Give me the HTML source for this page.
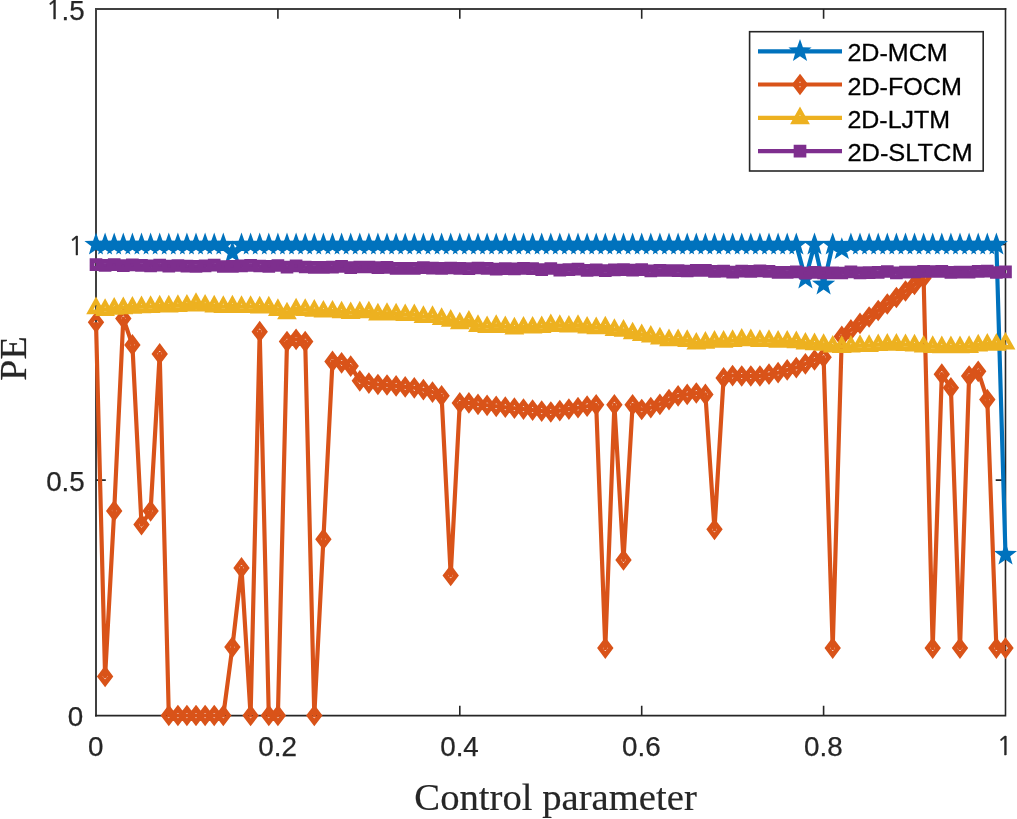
<!DOCTYPE html>
<html><head><meta charset="utf-8"><title>PE vs Control parameter</title>
<style>html,body{margin:0;padding:0;background:#fff}svg{display:block}</style></head>
<body>
<svg width="1017" height="819" viewBox="0 0 1017 819">
<rect width="1017" height="819" fill="#fff"/>
<path d="M96.0,716.4V9.0H1006.3" fill="none" stroke="#404040" stroke-width="2" stroke-linejoin="miter"/>
<path d="M95.0,715.6H1005.5V8.0" fill="none" stroke="#262626" stroke-width="1.6" stroke-linejoin="miter"/>
<path d="M277.9,715.6v-9.8M277.9,9.0v9.8M459.8,715.6v-9.8M459.8,9.0v9.8M641.7,715.6v-9.8M641.7,9.0v9.8M823.6,715.6v-9.8M823.6,9.0v9.8M96.0,480.1h9.8M1005.5,480.1h-9.8M96.0,244.5h9.8M1005.5,244.5h-9.8" stroke="#262626" stroke-width="1.6" fill="none"/>
<path d="M96.0,244.7L105.1,244.7L114.2,244.7L123.3,244.7L132.4,244.7L141.5,244.7L150.6,244.7L159.7,244.7L168.8,244.7L177.9,244.7L186.9,244.7L196.0,244.7L205.1,244.7L214.2,244.7L223.3,244.7L232.4,252.8L241.5,244.7L250.6,244.7L259.7,244.7L268.8,244.7L277.9,244.7L287.0,244.7L296.1,244.7L305.2,244.7L314.3,244.7L323.4,244.7L332.5,244.7L341.6,244.7L350.7,244.7L359.8,244.7L368.9,244.7L377.9,244.7L387.0,244.7L396.1,244.7L405.2,244.7L414.3,244.7L423.4,244.7L432.5,244.7L441.6,244.7L450.7,244.7L459.8,244.7L468.9,244.7L478.0,244.7L487.1,244.7L496.2,244.7L505.3,244.7L514.4,244.7L523.5,244.7L532.6,244.7L541.7,244.7L550.8,244.7L559.8,244.7L568.9,244.7L578.0,244.7L587.1,244.7L596.2,244.7L605.3,244.7L614.4,244.7L623.5,244.7L632.6,244.7L641.7,244.7L650.8,244.7L659.9,244.7L669.0,244.7L678.1,244.7L687.2,244.7L696.3,244.7L705.4,244.7L714.5,244.7L723.6,244.7L732.6,244.7L741.7,244.7L750.8,244.7L759.9,244.7L769.0,244.7L778.1,244.7L787.2,244.7L796.3,244.7L805.4,278.5L814.5,244.7L823.6,284.6L832.7,244.7L841.8,249.3L850.9,244.7L860.0,244.7L869.1,244.7L878.2,244.7L887.3,244.7L896.4,244.7L905.5,244.7L914.5,244.7L923.6,244.7L932.7,244.7L941.8,244.7L950.9,244.7L960.0,244.7L969.1,244.7L978.2,244.7L987.3,244.7L996.4,244.7L1005.5,554.7" fill="none" stroke="#0072BD" stroke-width="4.17" stroke-linejoin="round" stroke-linecap="butt"/>
<path d="M96.0,232.6L98.9,240.7L107.6,241.0L100.7,246.3L103.1,254.6L96.0,249.7L88.9,254.6L91.3,246.3L84.4,241.0L93.1,240.7ZM105.1,232.6L108.0,240.7L116.7,241.0L109.8,246.3L112.2,254.6L105.1,249.7L98.0,254.6L100.4,246.3L93.5,241.0L102.2,240.7ZM114.2,232.6L117.1,240.7L125.7,241.0L118.9,246.3L121.3,254.6L114.2,249.7L107.0,254.6L109.5,246.3L102.6,241.0L111.3,240.7ZM123.3,232.6L126.2,240.7L134.8,241.0L128.0,246.3L130.4,254.6L123.3,249.7L116.1,254.6L118.6,246.3L111.7,241.0L120.4,240.7ZM132.4,232.6L135.3,240.7L143.9,241.0L137.1,246.3L139.5,254.6L132.4,249.7L125.2,254.6L127.7,246.3L120.8,241.0L129.5,240.7ZM141.5,232.6L144.4,240.7L153.0,241.0L146.2,246.3L148.6,254.6L141.5,249.7L134.3,254.6L136.8,246.3L129.9,241.0L138.6,240.7ZM150.6,232.6L153.5,240.7L162.1,241.0L155.3,246.3L157.7,254.6L150.6,249.7L143.4,254.6L145.9,246.3L139.0,241.0L147.7,240.7ZM159.7,232.6L162.6,240.7L171.2,241.0L164.4,246.3L166.8,254.6L159.7,249.7L152.5,254.6L155.0,246.3L148.1,241.0L156.8,240.7ZM168.8,232.6L171.7,240.7L180.3,241.0L173.5,246.3L175.9,254.6L168.8,249.7L161.6,254.6L164.1,246.3L157.2,241.0L165.9,240.7ZM177.9,232.6L180.8,240.7L189.4,241.0L182.6,246.3L185.0,254.6L177.9,249.7L170.7,254.6L173.1,246.3L166.3,241.0L174.9,240.7ZM186.9,232.6L189.9,240.7L198.5,241.0L191.7,246.3L194.1,254.6L186.9,249.7L179.8,254.6L182.2,246.3L175.4,241.0L184.0,240.7ZM196.0,232.6L199.0,240.7L207.6,241.0L200.8,246.3L203.2,254.6L196.0,249.7L188.9,254.6L191.3,246.3L184.5,241.0L193.1,240.7ZM205.1,232.6L208.0,240.7L216.7,241.0L209.8,246.3L212.3,254.6L205.1,249.7L198.0,254.6L200.4,246.3L193.6,241.0L202.2,240.7ZM214.2,232.6L217.1,240.7L225.8,241.0L218.9,246.3L221.4,254.6L214.2,249.7L207.1,254.6L209.5,246.3L202.7,241.0L211.3,240.7ZM223.3,232.6L226.2,240.7L234.9,241.0L228.0,246.3L230.5,254.6L223.3,249.7L216.2,254.6L218.6,246.3L211.8,241.0L220.4,240.7ZM232.4,240.6L235.3,248.8L244.0,249.0L237.1,254.3L239.6,262.6L232.4,257.7L225.3,262.6L227.7,254.3L220.9,249.0L229.5,248.8ZM241.5,232.6L244.4,240.7L253.1,241.0L246.2,246.3L248.7,254.6L241.5,249.7L234.4,254.6L236.8,246.3L230.0,241.0L238.6,240.7ZM250.6,232.6L253.5,240.7L262.2,241.0L255.3,246.3L257.8,254.6L250.6,249.7L243.5,254.6L245.9,246.3L239.1,241.0L247.7,240.7ZM259.7,232.6L262.6,240.7L271.3,241.0L264.4,246.3L266.9,254.6L259.7,249.7L252.6,254.6L255.0,246.3L248.2,241.0L256.8,240.7ZM268.8,232.6L271.7,240.7L280.4,241.0L273.5,246.3L275.9,254.6L268.8,249.7L261.7,254.6L264.1,246.3L257.2,241.0L265.9,240.7ZM277.9,232.6L280.8,240.7L289.5,241.0L282.6,246.3L285.0,254.6L277.9,249.7L270.8,254.6L273.2,246.3L266.3,241.0L275.0,240.7ZM287.0,232.6L289.9,240.7L298.6,241.0L291.7,246.3L294.1,254.6L287.0,249.7L279.9,254.6L282.3,246.3L275.4,241.0L284.1,240.7ZM296.1,232.6L299.0,240.7L307.6,241.0L300.8,246.3L303.2,254.6L296.1,249.7L288.9,254.6L291.4,246.3L284.5,241.0L293.2,240.7ZM305.2,232.6L308.1,240.7L316.7,241.0L309.9,246.3L312.3,254.6L305.2,249.7L298.0,254.6L300.5,246.3L293.6,241.0L302.3,240.7ZM314.3,232.6L317.2,240.7L325.8,241.0L319.0,246.3L321.4,254.6L314.3,249.7L307.1,254.6L309.6,246.3L302.7,241.0L311.4,240.7ZM323.4,232.6L326.3,240.7L334.9,241.0L328.1,246.3L330.5,254.6L323.4,249.7L316.2,254.6L318.7,246.3L311.8,241.0L320.5,240.7ZM332.5,232.6L335.4,240.7L344.0,241.0L337.2,246.3L339.6,254.6L332.5,249.7L325.3,254.6L327.8,246.3L320.9,241.0L329.6,240.7ZM341.6,232.6L344.5,240.7L353.1,241.0L346.3,246.3L348.7,254.6L341.6,249.7L334.4,254.6L336.9,246.3L330.0,241.0L338.7,240.7ZM350.7,232.6L353.6,240.7L362.2,241.0L355.4,246.3L357.8,254.6L350.7,249.7L343.5,254.6L346.0,246.3L339.1,241.0L347.8,240.7ZM359.8,232.6L362.7,240.7L371.3,241.0L364.5,246.3L366.9,254.6L359.8,249.7L352.6,254.6L355.0,246.3L348.2,241.0L356.8,240.7ZM368.9,232.6L371.8,240.7L380.4,241.0L373.6,246.3L376.0,254.6L368.9,249.7L361.7,254.6L364.1,246.3L357.3,241.0L365.9,240.7ZM377.9,232.6L380.9,240.7L389.5,241.0L382.7,246.3L385.1,254.6L377.9,249.7L370.8,254.6L373.2,246.3L366.4,241.0L375.0,240.7ZM387.0,232.6L389.9,240.7L398.6,241.0L391.7,246.3L394.2,254.6L387.0,249.7L379.9,254.6L382.3,246.3L375.5,241.0L384.1,240.7ZM396.1,232.6L399.0,240.7L407.7,241.0L400.8,246.3L403.3,254.6L396.1,249.7L389.0,254.6L391.4,246.3L384.6,241.0L393.2,240.7ZM405.2,232.6L408.1,240.7L416.8,241.0L409.9,246.3L412.4,254.6L405.2,249.7L398.1,254.6L400.5,246.3L393.7,241.0L402.3,240.7ZM414.3,232.6L417.2,240.7L425.9,241.0L419.0,246.3L421.5,254.6L414.3,249.7L407.2,254.6L409.6,246.3L402.8,241.0L411.4,240.7ZM423.4,232.6L426.3,240.7L435.0,241.0L428.1,246.3L430.6,254.6L423.4,249.7L416.3,254.6L418.7,246.3L411.9,241.0L420.5,240.7ZM432.5,232.6L435.4,240.7L444.1,241.0L437.2,246.3L439.7,254.6L432.5,249.7L425.4,254.6L427.8,246.3L421.0,241.0L429.6,240.7ZM441.6,232.6L444.5,240.7L453.2,241.0L446.3,246.3L448.8,254.6L441.6,249.7L434.5,254.6L436.9,246.3L430.1,241.0L438.7,240.7ZM450.7,232.6L453.6,240.7L462.3,241.0L455.4,246.3L457.8,254.6L450.7,249.7L443.6,254.6L446.0,246.3L439.1,241.0L447.8,240.7ZM459.8,232.6L462.7,240.7L471.4,241.0L464.5,246.3L466.9,254.6L459.8,249.7L452.7,254.6L455.1,246.3L448.2,241.0L456.9,240.7ZM468.9,232.6L471.8,240.7L480.5,241.0L473.6,246.3L476.0,254.6L468.9,249.7L461.8,254.6L464.2,246.3L457.3,241.0L466.0,240.7ZM478.0,232.6L480.9,240.7L489.5,241.0L482.7,246.3L485.1,254.6L478.0,249.7L470.8,254.6L473.3,246.3L466.4,241.0L475.1,240.7ZM487.1,232.6L490.0,240.7L498.6,241.0L491.8,246.3L494.2,254.6L487.1,249.7L479.9,254.6L482.4,246.3L475.5,241.0L484.2,240.7ZM496.2,232.6L499.1,240.7L507.7,241.0L500.9,246.3L503.3,254.6L496.2,249.7L489.0,254.6L491.5,246.3L484.6,241.0L493.3,240.7ZM505.3,232.6L508.2,240.7L516.8,241.0L510.0,246.3L512.4,254.6L505.3,249.7L498.1,254.6L500.6,246.3L493.7,241.0L502.4,240.7ZM514.4,232.6L517.3,240.7L525.9,241.0L519.1,246.3L521.5,254.6L514.4,249.7L507.2,254.6L509.7,246.3L502.8,241.0L511.5,240.7ZM523.5,232.6L526.4,240.7L535.0,241.0L528.2,246.3L530.6,254.6L523.5,249.7L516.3,254.6L518.8,246.3L511.9,241.0L520.6,240.7ZM532.6,232.6L535.5,240.7L544.1,241.0L537.3,246.3L539.7,254.6L532.6,249.7L525.4,254.6L527.9,246.3L521.0,241.0L529.7,240.7ZM541.7,232.6L544.6,240.7L553.2,241.0L546.4,246.3L548.8,254.6L541.7,249.7L534.5,254.6L536.9,246.3L530.1,241.0L538.7,240.7ZM550.8,232.6L553.7,240.7L562.3,241.0L555.5,246.3L557.9,254.6L550.8,249.7L543.6,254.6L546.0,246.3L539.2,241.0L547.8,240.7ZM559.8,232.6L562.8,240.7L571.4,241.0L564.6,246.3L567.0,254.6L559.8,249.7L552.7,254.6L555.1,246.3L548.3,241.0L556.9,240.7ZM568.9,232.6L571.8,240.7L580.5,241.0L573.6,246.3L576.1,254.6L568.9,249.7L561.8,254.6L564.2,246.3L557.4,241.0L566.0,240.7ZM578.0,232.6L580.9,240.7L589.6,241.0L582.7,246.3L585.2,254.6L578.0,249.7L570.9,254.6L573.3,246.3L566.5,241.0L575.1,240.7ZM587.1,232.6L590.0,240.7L598.7,241.0L591.8,246.3L594.3,254.6L587.1,249.7L580.0,254.6L582.4,246.3L575.6,241.0L584.2,240.7ZM596.2,232.6L599.1,240.7L607.8,241.0L600.9,246.3L603.4,254.6L596.2,249.7L589.1,254.6L591.5,246.3L584.7,241.0L593.3,240.7ZM605.3,232.6L608.2,240.7L616.9,241.0L610.0,246.3L612.5,254.6L605.3,249.7L598.2,254.6L600.6,246.3L593.8,241.0L602.4,240.7ZM614.4,232.6L617.3,240.7L626.0,241.0L619.1,246.3L621.6,254.6L614.4,249.7L607.3,254.6L609.7,246.3L602.9,241.0L611.5,240.7ZM623.5,232.6L626.4,240.7L635.1,241.0L628.2,246.3L630.7,254.6L623.5,249.7L616.4,254.6L618.8,246.3L612.0,241.0L620.6,240.7ZM632.6,232.6L635.5,240.7L644.2,241.0L637.3,246.3L639.7,254.6L632.6,249.7L625.5,254.6L627.9,246.3L621.0,241.0L629.7,240.7ZM641.7,232.6L644.6,240.7L653.3,241.0L646.4,246.3L648.8,254.6L641.7,249.7L634.6,254.6L637.0,246.3L630.1,241.0L638.8,240.7ZM650.8,232.6L653.7,240.7L662.4,241.0L655.5,246.3L657.9,254.6L650.8,249.7L643.7,254.6L646.1,246.3L639.2,241.0L647.9,240.7ZM659.9,232.6L662.8,240.7L671.4,241.0L664.6,246.3L667.0,254.6L659.9,249.7L652.7,254.6L655.2,246.3L648.3,241.0L657.0,240.7ZM669.0,232.6L671.9,240.7L680.5,241.0L673.7,246.3L676.1,254.6L669.0,249.7L661.8,254.6L664.3,246.3L657.4,241.0L666.1,240.7ZM678.1,232.6L681.0,240.7L689.6,241.0L682.8,246.3L685.2,254.6L678.1,249.7L670.9,254.6L673.4,246.3L666.5,241.0L675.2,240.7ZM687.2,232.6L690.1,240.7L698.7,241.0L691.9,246.3L694.3,254.6L687.2,249.7L680.0,254.6L682.5,246.3L675.6,241.0L684.3,240.7ZM696.3,232.6L699.2,240.7L707.8,241.0L701.0,246.3L703.4,254.6L696.3,249.7L689.1,254.6L691.6,246.3L684.7,241.0L693.4,240.7ZM705.4,232.6L708.3,240.7L716.9,241.0L710.1,246.3L712.5,254.6L705.4,249.7L698.2,254.6L700.7,246.3L693.8,241.0L702.5,240.7ZM714.5,232.6L717.4,240.7L726.0,241.0L719.2,246.3L721.6,254.6L714.5,249.7L707.3,254.6L709.8,246.3L702.9,241.0L711.6,240.7ZM723.6,232.6L726.5,240.7L735.1,241.0L728.3,246.3L730.7,254.6L723.6,249.7L716.4,254.6L718.8,246.3L712.0,241.0L720.6,240.7ZM732.6,232.6L735.6,240.7L744.2,241.0L737.4,246.3L739.8,254.6L732.6,249.7L725.5,254.6L727.9,246.3L721.1,241.0L729.7,240.7ZM741.7,232.6L744.7,240.7L753.3,241.0L746.5,246.3L748.9,254.6L741.7,249.7L734.6,254.6L737.0,246.3L730.2,241.0L738.8,240.7ZM750.8,232.6L753.7,240.7L762.4,241.0L755.5,246.3L758.0,254.6L750.8,249.7L743.7,254.6L746.1,246.3L739.3,241.0L747.9,240.7ZM759.9,232.6L762.8,240.7L771.5,241.0L764.6,246.3L767.1,254.6L759.9,249.7L752.8,254.6L755.2,246.3L748.4,241.0L757.0,240.7ZM769.0,232.6L771.9,240.7L780.6,241.0L773.7,246.3L776.2,254.6L769.0,249.7L761.9,254.6L764.3,246.3L757.5,241.0L766.1,240.7ZM778.1,232.6L781.0,240.7L789.7,241.0L782.8,246.3L785.3,254.6L778.1,249.7L771.0,254.6L773.4,246.3L766.6,241.0L775.2,240.7ZM787.2,232.6L790.1,240.7L798.8,241.0L791.9,246.3L794.4,254.6L787.2,249.7L780.1,254.6L782.5,246.3L775.7,241.0L784.3,240.7ZM796.3,232.6L799.2,240.7L807.9,241.0L801.0,246.3L803.5,254.6L796.3,249.7L789.2,254.6L791.6,246.3L784.8,241.0L793.4,240.7ZM805.4,266.4L808.3,274.5L817.0,274.8L810.1,280.1L812.6,288.4L805.4,283.5L798.3,288.4L800.7,280.1L793.9,274.8L802.5,274.5ZM814.5,232.6L817.4,240.7L826.1,241.0L819.2,246.3L821.6,254.6L814.5,249.7L807.4,254.6L809.8,246.3L802.9,241.0L811.6,240.7ZM823.6,272.4L826.5,280.6L835.2,280.8L828.3,286.1L830.7,294.4L823.6,289.5L816.5,294.4L818.9,286.1L812.0,280.8L820.7,280.6ZM832.7,232.6L835.6,240.7L844.3,241.0L837.4,246.3L839.8,254.6L832.7,249.7L825.6,254.6L828.0,246.3L821.1,241.0L829.8,240.7ZM841.8,237.2L844.7,245.3L853.3,245.6L846.5,250.8L848.9,259.1L841.8,254.3L834.6,259.1L837.1,250.8L830.2,245.6L838.9,245.3ZM850.9,232.6L853.8,240.7L862.4,241.0L855.6,246.3L858.0,254.6L850.9,249.7L843.7,254.6L846.2,246.3L839.3,241.0L848.0,240.7ZM860.0,232.6L862.9,240.7L871.5,241.0L864.7,246.3L867.1,254.6L860.0,249.7L852.8,254.6L855.3,246.3L848.4,241.0L857.1,240.7ZM869.1,232.6L872.0,240.7L880.6,241.0L873.8,246.3L876.2,254.6L869.1,249.7L861.9,254.6L864.4,246.3L857.5,241.0L866.2,240.7ZM878.2,232.6L881.1,240.7L889.7,241.0L882.9,246.3L885.3,254.6L878.2,249.7L871.0,254.6L873.5,246.3L866.6,241.0L875.3,240.7ZM887.3,232.6L890.2,240.7L898.8,241.0L892.0,246.3L894.4,254.6L887.3,249.7L880.1,254.6L882.6,246.3L875.7,241.0L884.4,240.7ZM896.4,232.6L899.3,240.7L907.9,241.0L901.1,246.3L903.5,254.6L896.4,249.7L889.2,254.6L891.7,246.3L884.8,241.0L893.5,240.7ZM905.5,232.6L908.4,240.7L917.0,241.0L910.2,246.3L912.6,254.6L905.5,249.7L898.3,254.6L900.7,246.3L893.9,241.0L902.5,240.7ZM914.5,232.6L917.5,240.7L926.1,241.0L919.3,246.3L921.7,254.6L914.5,249.7L907.4,254.6L909.8,246.3L903.0,241.0L911.6,240.7ZM923.6,232.6L926.6,240.7L935.2,241.0L928.4,246.3L930.8,254.6L923.6,249.7L916.5,254.6L918.9,246.3L912.1,241.0L920.7,240.7ZM932.7,232.6L935.6,240.7L944.3,241.0L937.4,246.3L939.9,254.6L932.7,249.7L925.6,254.6L928.0,246.3L921.2,241.0L929.8,240.7ZM941.8,232.6L944.7,240.7L953.4,241.0L946.5,246.3L949.0,254.6L941.8,249.7L934.7,254.6L937.1,246.3L930.3,241.0L938.9,240.7ZM950.9,232.6L953.8,240.7L962.5,241.0L955.6,246.3L958.1,254.6L950.9,249.7L943.8,254.6L946.2,246.3L939.4,241.0L948.0,240.7ZM960.0,232.6L962.9,240.7L971.6,241.0L964.7,246.3L967.2,254.6L960.0,249.7L952.9,254.6L955.3,246.3L948.5,241.0L957.1,240.7ZM969.1,232.6L972.0,240.7L980.7,241.0L973.8,246.3L976.3,254.6L969.1,249.7L962.0,254.6L964.4,246.3L957.6,241.0L966.2,240.7ZM978.2,232.6L981.1,240.7L989.8,241.0L982.9,246.3L985.4,254.6L978.2,249.7L971.1,254.6L973.5,246.3L966.7,241.0L975.3,240.7ZM987.3,232.6L990.2,240.7L998.9,241.0L992.0,246.3L994.5,254.6L987.3,249.7L980.2,254.6L982.6,246.3L975.8,241.0L984.4,240.7ZM996.4,232.6L999.3,240.7L1008.0,241.0L1001.1,246.3L1003.5,254.6L996.4,249.7L989.3,254.6L991.7,246.3L984.8,241.0L993.5,240.7ZM1005.5,542.6L1008.4,550.7L1017.1,551.0L1010.2,556.3L1012.6,564.6L1005.5,559.7L998.4,564.6L1000.8,556.3L993.9,551.0L1002.6,550.7Z" fill="#0072BD"/>

<path d="M96.0,322.3L105.1,676.4L114.2,510.9L123.3,318.5L132.4,344.9L141.5,524.6L150.6,510.9L159.7,353.9L168.8,715.5L177.9,715.5L186.9,715.5L196.0,715.5L205.1,715.5L214.2,715.5L223.3,715.5L232.4,647.1L241.5,567.9L250.6,715.5L259.7,331.7L268.8,715.5L277.9,715.5L287.0,341.6L296.1,339.3L305.2,341.6L314.3,715.5L323.4,539.2L332.5,361.4L341.6,362.8L350.7,366.1L359.8,380.8L368.9,383.1L377.9,384.5L387.0,385.0L396.1,385.9L405.2,386.9L414.3,387.8L423.4,389.7L432.5,392.1L441.6,395.8L450.7,575.5L459.8,402.9L468.9,402.9L478.0,404.3L487.1,405.3L496.2,406.3L505.3,407.2L514.4,408.2L523.5,409.1L532.6,410.1L541.7,411.1L550.8,412.0L559.8,410.6L568.9,409.1L578.0,407.7L587.1,406.2L596.2,404.8L605.3,648.1L614.4,404.8L623.5,559.9L632.6,404.8L641.7,409.5L650.8,407.6L659.9,404.3L669.0,399.6L678.1,395.8L687.2,394.4L696.3,393.0L705.4,394.4L714.5,529.3L723.6,377.9L732.6,375.6L741.7,376.0L750.8,376.0L759.9,376.0L769.0,374.2L778.1,372.7L787.2,369.9L796.3,367.6L805.4,363.8L814.5,360.0L823.6,357.2L832.7,648.1L841.8,336.4L850.9,329.9L860.0,323.4L869.1,317.0L878.2,310.5L887.3,304.0L896.4,297.5L905.5,291.0L914.5,284.5L923.6,278.0L932.7,648.1L941.8,374.2L950.9,387.8L960.0,648.1L969.1,376.0L978.2,371.3L987.3,399.6L996.4,648.1L1005.5,648.1" fill="none" stroke="#D95319" stroke-width="4.17" stroke-linejoin="round" stroke-linecap="butt"/>
<path d="M96.0,315.3L101.3,322.3L96.0,329.3L90.7,322.3ZM105.1,669.4L110.4,676.4L105.1,683.4L99.8,676.4ZM114.2,503.9L119.5,510.9L114.2,517.9L108.9,510.9ZM123.3,311.5L128.6,318.5L123.3,325.5L118.0,318.5ZM132.4,337.9L137.7,344.9L132.4,351.9L127.1,344.9ZM141.5,517.6L146.8,524.6L141.5,531.6L136.2,524.6ZM150.6,503.9L155.9,510.9L150.6,517.9L145.3,510.9ZM159.7,346.9L165.0,353.9L159.7,360.9L154.4,353.9ZM168.8,708.5L174.1,715.5L168.8,722.5L163.5,715.5ZM177.9,708.5L183.2,715.5L177.9,722.5L172.6,715.5ZM186.9,708.5L192.2,715.5L186.9,722.5L181.6,715.5ZM196.0,708.5L201.3,715.5L196.0,722.5L190.7,715.5ZM205.1,708.5L210.4,715.5L205.1,722.5L199.8,715.5ZM214.2,708.5L219.5,715.5L214.2,722.5L208.9,715.5ZM223.3,708.5L228.6,715.5L223.3,722.5L218.0,715.5ZM232.4,640.1L237.7,647.1L232.4,654.1L227.1,647.1ZM241.5,560.9L246.8,567.9L241.5,574.9L236.2,567.9ZM250.6,708.5L255.9,715.5L250.6,722.5L245.3,715.5ZM259.7,324.7L265.0,331.7L259.7,338.7L254.4,331.7ZM268.8,708.5L274.1,715.5L268.8,722.5L263.5,715.5ZM277.9,708.5L283.2,715.5L277.9,722.5L272.6,715.5ZM287.0,334.6L292.3,341.6L287.0,348.6L281.7,341.6ZM296.1,332.3L301.4,339.3L296.1,346.3L290.8,339.3ZM305.2,334.6L310.5,341.6L305.2,348.6L299.9,341.6ZM314.3,708.5L319.6,715.5L314.3,722.5L309.0,715.5ZM323.4,532.2L328.7,539.2L323.4,546.2L318.1,539.2ZM332.5,354.4L337.8,361.4L332.5,368.4L327.2,361.4ZM341.6,355.8L346.9,362.8L341.6,369.8L336.3,362.8ZM350.7,359.1L356.0,366.1L350.7,373.1L345.4,366.1ZM359.8,373.8L365.1,380.8L359.8,387.8L354.5,380.8ZM368.9,376.1L374.2,383.1L368.9,390.1L363.6,383.1ZM377.9,377.5L383.2,384.5L377.9,391.5L372.6,384.5ZM387.0,378.0L392.3,385.0L387.0,392.0L381.7,385.0ZM396.1,378.9L401.4,385.9L396.1,392.9L390.8,385.9ZM405.2,379.9L410.5,386.9L405.2,393.9L399.9,386.9ZM414.3,380.8L419.6,387.8L414.3,394.8L409.0,387.8ZM423.4,382.7L428.7,389.7L423.4,396.7L418.1,389.7ZM432.5,385.1L437.8,392.1L432.5,399.1L427.2,392.1ZM441.6,388.8L446.9,395.8L441.6,402.8L436.3,395.8ZM450.7,568.5L456.0,575.5L450.7,582.5L445.4,575.5ZM459.8,395.9L465.1,402.9L459.8,409.9L454.5,402.9ZM468.9,395.9L474.2,402.9L468.9,409.9L463.6,402.9ZM478.0,397.3L483.3,404.3L478.0,411.3L472.7,404.3ZM487.1,398.3L492.4,405.3L487.1,412.3L481.8,405.3ZM496.2,399.3L501.5,406.3L496.2,413.3L490.9,406.3ZM505.3,400.2L510.6,407.2L505.3,414.2L500.0,407.2ZM514.4,401.2L519.7,408.2L514.4,415.2L509.1,408.2ZM523.5,402.1L528.8,409.1L523.5,416.1L518.2,409.1ZM532.6,403.1L537.9,410.1L532.6,417.1L527.3,410.1ZM541.7,404.1L547.0,411.1L541.7,418.1L536.4,411.1ZM550.8,405.0L556.0,412.0L550.8,419.0L545.5,412.0ZM559.8,403.6L565.1,410.6L559.8,417.6L554.5,410.6ZM568.9,402.1L574.2,409.1L568.9,416.1L563.6,409.1ZM578.0,400.7L583.3,407.7L578.0,414.7L572.7,407.7ZM587.1,399.2L592.4,406.2L587.1,413.2L581.8,406.2ZM596.2,397.8L601.5,404.8L596.2,411.8L590.9,404.8ZM605.3,641.1L610.6,648.1L605.3,655.1L600.0,648.1ZM614.4,397.8L619.7,404.8L614.4,411.8L609.1,404.8ZM623.5,552.9L628.8,559.9L623.5,566.9L618.2,559.9ZM632.6,397.8L637.9,404.8L632.6,411.8L627.3,404.8ZM641.7,402.5L647.0,409.5L641.7,416.5L636.4,409.5ZM650.8,400.6L656.1,407.6L650.8,414.6L645.5,407.6ZM659.9,397.3L665.2,404.3L659.9,411.3L654.6,404.3ZM669.0,392.6L674.3,399.6L669.0,406.6L663.7,399.6ZM678.1,388.8L683.4,395.8L678.1,402.8L672.8,395.8ZM687.2,387.4L692.5,394.4L687.2,401.4L681.9,394.4ZM696.3,386.0L701.6,393.0L696.3,400.0L691.0,393.0ZM705.4,387.4L710.7,394.4L705.4,401.4L700.1,394.4ZM714.5,522.3L719.8,529.3L714.5,536.3L709.2,529.3ZM723.6,370.9L728.9,377.9L723.6,384.9L718.3,377.9ZM732.6,368.6L737.9,375.6L732.6,382.6L727.4,375.6ZM741.7,369.0L747.0,376.0L741.7,383.0L736.4,376.0ZM750.8,369.0L756.1,376.0L750.8,383.0L745.5,376.0ZM759.9,369.0L765.2,376.0L759.9,383.0L754.6,376.0ZM769.0,367.2L774.3,374.2L769.0,381.2L763.7,374.2ZM778.1,365.7L783.4,372.7L778.1,379.7L772.8,372.7ZM787.2,362.9L792.5,369.9L787.2,376.9L781.9,369.9ZM796.3,360.6L801.6,367.6L796.3,374.6L791.0,367.6ZM805.4,356.8L810.7,363.8L805.4,370.8L800.1,363.8ZM814.5,353.0L819.8,360.0L814.5,367.0L809.2,360.0ZM823.6,350.2L828.9,357.2L823.6,364.2L818.3,357.2ZM832.7,641.1L838.0,648.1L832.7,655.1L827.4,648.1ZM841.8,329.4L847.1,336.4L841.8,343.4L836.5,336.4ZM850.9,322.9L856.2,329.9L850.9,336.9L845.6,329.9ZM860.0,316.4L865.3,323.4L860.0,330.4L854.7,323.4ZM869.1,310.0L874.4,317.0L869.1,324.0L863.8,317.0ZM878.2,303.5L883.5,310.5L878.2,317.5L872.9,310.5ZM887.3,297.0L892.6,304.0L887.3,311.0L882.0,304.0ZM896.4,290.5L901.7,297.5L896.4,304.5L891.1,297.5ZM905.5,284.0L910.8,291.0L905.5,298.0L900.2,291.0ZM914.5,277.5L919.8,284.5L914.5,291.5L909.2,284.5ZM923.6,271.0L928.9,278.0L923.6,285.0L918.3,278.0ZM932.7,641.1L938.0,648.1L932.7,655.1L927.4,648.1ZM941.8,367.2L947.1,374.2L941.8,381.2L936.5,374.2ZM950.9,380.8L956.2,387.8L950.9,394.8L945.6,387.8ZM960.0,641.1L965.3,648.1L960.0,655.1L954.7,648.1ZM969.1,369.0L974.4,376.0L969.1,383.0L963.8,376.0ZM978.2,364.3L983.5,371.3L978.2,378.3L972.9,371.3ZM987.3,392.6L992.6,399.6L987.3,406.6L982.0,399.6ZM996.4,641.1L1001.7,648.1L996.4,655.1L991.1,648.1ZM1005.5,641.1L1010.8,648.1L1005.5,655.1L1000.2,648.1Z" fill="none" stroke="#D95319" stroke-width="4.62" stroke-linejoin="miter" stroke-miterlimit="10"/>

<path d="M96.0,307.7L105.1,309.5L114.2,308.2L123.3,307.7L132.4,307.2L141.5,306.7L150.6,306.5L159.7,305.9L168.8,305.9L177.9,305.4L186.9,305.2L196.0,303.4L205.1,305.2L214.2,305.9L223.3,306.5L232.4,305.9L241.5,306.5L250.6,306.5L259.7,307.0L268.8,307.0L277.9,309.5L287.0,312.9L296.1,309.0L305.2,309.5L314.3,310.3L323.4,311.1L332.5,311.1L341.6,311.9L350.7,312.6L359.8,311.9L368.9,311.9L377.9,313.9L387.0,313.4L396.1,313.9L405.2,314.7L414.3,314.7L423.4,316.5L432.5,316.5L441.6,318.5L450.7,320.3L459.8,322.9L468.9,321.1L478.0,325.4L487.1,326.7L496.2,325.4L505.3,326.7L514.4,328.0L523.5,327.2L532.6,327.2L541.7,326.7L550.8,324.6L559.8,325.4L568.9,326.2L578.0,325.4L587.1,327.2L596.2,327.7L605.3,327.0L614.4,329.5L623.5,330.3L632.6,332.9L641.7,334.6L650.8,336.2L659.9,338.0L669.0,339.8L678.1,339.8L687.2,340.5L696.3,343.1L705.4,342.3L714.5,341.3L723.6,341.3L732.6,340.5L741.7,339.2L750.8,339.8L759.9,340.5L769.0,340.5L778.1,341.3L787.2,341.3L796.3,341.8L805.4,343.1L814.5,343.8L823.6,344.4L832.7,346.1L841.8,346.4L850.9,346.1L860.0,345.5L869.1,345.5L878.2,344.6L887.3,344.2L896.4,344.2L905.5,344.6L914.5,345.0L923.6,346.1L932.7,346.4L941.8,346.8L950.9,346.8L960.0,346.8L969.1,346.4L978.2,345.0L987.3,344.2L996.4,344.2L1005.5,343.1" fill="none" stroke="#EDB120" stroke-width="4.17" stroke-linejoin="round" stroke-linecap="butt"/>
<path d="M96.0,296.5L105.8,314.2L86.2,314.2ZM96.0,304.7L93.4,309.5L98.6,309.5ZM105.1,298.3L114.9,316.0L95.2,316.0ZM105.1,306.5L102.5,311.3L107.7,311.3ZM114.2,297.0L124.0,314.7L104.3,314.7ZM114.2,305.2L111.6,310.0L116.8,310.0ZM123.3,296.5L133.1,314.2L113.4,314.2ZM123.3,304.7L120.7,309.5L125.9,309.5ZM132.4,296.0L142.2,313.7L122.5,313.7ZM132.4,304.2L129.8,309.0L135.0,309.0ZM141.5,295.5L151.3,313.2L131.6,313.2ZM141.5,303.7L138.9,308.5L144.1,308.5ZM150.6,295.3L160.4,312.9L140.7,312.9ZM150.6,303.5L148.0,308.2L153.2,308.2ZM159.7,294.7L169.5,312.4L149.8,312.4ZM159.7,302.9L157.1,307.7L162.3,307.7ZM168.8,294.7L178.6,312.4L158.9,312.4ZM168.8,302.9L166.2,307.7L171.4,307.7ZM177.9,294.2L187.7,311.9L168.0,311.9ZM177.9,302.4L175.3,307.2L180.5,307.2ZM186.9,294.0L196.8,311.6L177.1,311.6ZM186.9,302.2L184.3,306.9L189.5,306.9ZM196.0,292.2L205.9,309.8L186.2,309.8ZM196.0,300.4L193.4,305.1L198.6,305.1ZM205.1,294.0L215.0,311.6L195.3,311.6ZM205.1,302.2L202.5,306.9L207.7,306.9ZM214.2,294.7L224.1,312.4L204.4,312.4ZM214.2,302.9L211.6,307.7L216.8,307.7ZM223.3,295.3L233.2,312.9L213.5,312.9ZM223.3,303.5L220.7,308.2L225.9,308.2ZM232.4,294.7L242.3,312.4L222.6,312.4ZM232.4,302.9L229.8,307.7L235.0,307.7ZM241.5,295.3L251.4,312.9L231.7,312.9ZM241.5,303.5L238.9,308.2L244.1,308.2ZM250.6,295.3L260.5,312.9L240.8,312.9ZM250.6,303.5L248.0,308.2L253.2,308.2ZM259.7,295.8L269.6,313.4L249.9,313.4ZM259.7,304.0L257.1,308.7L262.3,308.7ZM268.8,295.8L278.7,313.4L259.0,313.4ZM268.8,304.0L266.2,308.7L271.4,308.7ZM277.9,298.3L287.8,316.0L268.0,316.0ZM277.9,306.5L275.3,311.3L280.5,311.3ZM287.0,301.7L296.8,319.3L277.1,319.3ZM287.0,309.9L284.4,314.6L289.6,314.6ZM296.1,297.8L305.9,315.5L286.2,315.5ZM296.1,306.0L293.5,310.8L298.7,310.8ZM305.2,298.3L315.0,316.0L295.3,316.0ZM305.2,306.5L302.6,311.3L307.8,311.3ZM314.3,299.1L324.1,316.7L304.4,316.7ZM314.3,307.3L311.7,312.0L316.9,312.0ZM323.4,299.9L333.2,317.5L313.5,317.5ZM323.4,308.1L320.8,312.8L326.0,312.8ZM332.5,299.9L342.3,317.5L322.6,317.5ZM332.5,308.1L329.9,312.8L335.1,312.8ZM341.6,300.7L351.4,318.3L331.7,318.3ZM341.6,308.9L339.0,313.6L344.2,313.6ZM350.7,301.4L360.5,319.1L340.8,319.1ZM350.7,309.6L348.1,314.4L353.3,314.4ZM359.8,300.7L369.6,318.3L349.9,318.3ZM359.8,308.9L357.2,313.6L362.4,313.6ZM368.9,300.7L378.7,318.3L359.0,318.3ZM368.9,308.9L366.2,313.6L371.5,313.6ZM377.9,302.7L387.8,320.4L368.1,320.4ZM377.9,310.9L375.3,315.7L380.5,315.7ZM387.0,302.2L396.9,319.8L377.2,319.8ZM387.0,310.4L384.4,315.1L389.6,315.1ZM396.1,302.7L406.0,320.4L386.3,320.4ZM396.1,310.9L393.5,315.7L398.7,315.7ZM405.2,303.5L415.1,321.1L395.4,321.1ZM405.2,311.7L402.6,316.4L407.8,316.4ZM414.3,303.5L424.2,321.1L404.5,321.1ZM414.3,311.7L411.7,316.4L416.9,316.4ZM423.4,305.3L433.3,322.9L413.6,322.9ZM423.4,313.5L420.8,318.2L426.0,318.2ZM432.5,305.3L442.4,322.9L422.7,322.9ZM432.5,313.5L429.9,318.2L435.1,318.2ZM441.6,307.3L451.5,325.0L431.8,325.0ZM441.6,315.5L439.0,320.3L444.2,320.3ZM450.7,309.1L460.6,326.7L440.9,326.7ZM450.7,317.3L448.1,322.0L453.3,322.0ZM459.8,311.7L469.7,329.3L449.9,329.3ZM459.8,319.9L457.2,324.6L462.4,324.6ZM468.9,309.9L478.7,327.5L459.0,327.5ZM468.9,318.1L466.3,322.8L471.5,322.8ZM478.0,314.2L487.8,331.9L468.1,331.9ZM478.0,322.4L475.4,327.2L480.6,327.2ZM487.1,315.5L496.9,333.1L477.2,333.1ZM487.1,323.7L484.5,328.4L489.7,328.4ZM496.2,314.2L506.0,331.9L486.3,331.9ZM496.2,322.4L493.6,327.2L498.8,327.2ZM505.3,315.5L515.1,333.1L495.4,333.1ZM505.3,323.7L502.7,328.4L507.9,328.4ZM514.4,316.8L524.2,334.4L504.5,334.4ZM514.4,325.0L511.8,329.7L517.0,329.7ZM523.5,316.0L533.3,333.6L513.6,333.6ZM523.5,324.2L520.9,328.9L526.1,328.9ZM532.6,316.0L542.4,333.6L522.7,333.6ZM532.6,324.2L530.0,328.9L535.2,328.9ZM541.7,315.5L551.5,333.1L531.8,333.1ZM541.7,323.7L539.1,328.4L544.3,328.4ZM550.8,313.4L560.6,331.1L540.9,331.1ZM550.8,321.6L548.1,326.4L553.4,326.4ZM559.8,314.2L569.7,331.9L550.0,331.9ZM559.8,322.4L557.2,327.2L562.4,327.2ZM568.9,315.0L578.8,332.6L559.1,332.6ZM568.9,323.2L566.3,327.9L571.5,327.9ZM578.0,314.2L587.9,331.9L568.2,331.9ZM578.0,322.4L575.4,327.2L580.6,327.2ZM587.1,316.0L597.0,333.6L577.3,333.6ZM587.1,324.2L584.5,328.9L589.7,328.9ZM596.2,316.5L606.1,334.2L586.4,334.2ZM596.2,324.7L593.6,329.5L598.8,329.5ZM605.3,315.8L615.2,333.4L595.5,333.4ZM605.3,324.0L602.7,328.7L607.9,328.7ZM614.4,318.3L624.3,336.0L604.6,336.0ZM614.4,326.5L611.8,331.3L617.0,331.3ZM623.5,319.1L633.4,336.7L613.7,336.7ZM623.5,327.3L620.9,332.0L626.1,332.0ZM632.6,321.7L642.5,339.3L622.8,339.3ZM632.6,329.9L630.0,334.6L635.2,334.6ZM641.7,323.4L651.6,341.1L631.9,341.1ZM641.7,331.6L639.1,336.4L644.3,336.4ZM650.8,325.0L660.6,342.6L640.9,342.6ZM650.8,333.2L648.2,337.9L653.4,337.9ZM659.9,326.8L669.7,344.4L650.0,344.4ZM659.9,335.0L657.3,339.7L662.5,339.7ZM669.0,328.6L678.8,346.2L659.1,346.2ZM669.0,336.8L666.4,341.5L671.6,341.5ZM678.1,328.6L687.9,346.2L668.2,346.2ZM678.1,336.8L675.5,341.5L680.7,341.5ZM687.2,329.3L697.0,347.0L677.3,347.0ZM687.2,337.5L684.6,342.3L689.8,342.3ZM696.3,331.9L706.1,349.5L686.4,349.5ZM696.3,340.1L693.7,344.8L698.9,344.8ZM705.4,331.1L715.2,348.8L695.5,348.8ZM705.4,339.3L702.8,344.1L708.0,344.1ZM714.5,330.1L724.3,347.7L704.6,347.7ZM714.5,338.3L711.9,343.0L717.1,343.0ZM723.6,330.1L733.4,347.7L713.7,347.7ZM723.6,338.3L721.0,343.0L726.2,343.0ZM732.6,329.3L742.5,347.0L722.8,347.0ZM732.6,337.5L730.0,342.3L735.2,342.3ZM741.7,328.0L751.6,345.7L731.9,345.7ZM741.7,336.2L739.1,341.0L744.3,341.0ZM750.8,328.6L760.7,346.2L741.0,346.2ZM750.8,336.8L748.2,341.5L753.4,341.5ZM759.9,329.3L769.8,347.0L750.1,347.0ZM759.9,337.5L757.3,342.3L762.5,342.3ZM769.0,329.3L778.9,347.0L759.2,347.0ZM769.0,337.5L766.4,342.3L771.6,342.3ZM778.1,330.1L788.0,347.7L768.3,347.7ZM778.1,338.3L775.5,343.0L780.7,343.0ZM787.2,330.1L797.1,347.7L777.4,347.7ZM787.2,338.3L784.6,343.0L789.8,343.0ZM796.3,330.6L806.2,348.3L786.5,348.3ZM796.3,338.8L793.7,343.6L798.9,343.6ZM805.4,331.9L815.3,349.5L795.6,349.5ZM805.4,340.1L802.8,344.8L808.0,344.8ZM814.5,332.6L824.4,350.3L804.7,350.3ZM814.5,340.8L811.9,345.6L817.1,345.6ZM823.6,333.2L833.5,350.8L813.8,350.8ZM823.6,341.4L821.0,346.1L826.2,346.1ZM832.7,334.9L842.5,352.5L822.8,352.5ZM832.7,343.1L830.1,347.8L835.3,347.8ZM841.8,335.2L851.6,352.9L831.9,352.9ZM841.8,343.4L839.2,348.2L844.4,348.2ZM850.9,334.9L860.7,352.5L841.0,352.5ZM850.9,343.1L848.3,347.8L853.5,347.8ZM860.0,334.3L869.8,352.0L850.1,352.0ZM860.0,342.5L857.4,347.3L862.6,347.3ZM869.1,334.3L878.9,352.0L859.2,352.0ZM869.1,342.5L866.5,347.3L871.7,347.3ZM878.2,333.4L888.0,351.1L868.3,351.1ZM878.2,341.6L875.6,346.4L880.8,346.4ZM887.3,333.0L897.1,350.7L877.4,350.7ZM887.3,341.2L884.7,346.0L889.9,346.0ZM896.4,333.0L906.2,350.7L886.5,350.7ZM896.4,341.2L893.8,346.0L899.0,346.0ZM905.5,333.4L915.3,351.1L895.6,351.1ZM905.5,341.6L902.9,346.4L908.1,346.4ZM914.5,333.8L924.4,351.4L904.7,351.4ZM914.5,342.0L911.9,346.7L917.1,346.7ZM923.6,334.9L933.5,352.5L913.8,352.5ZM923.6,343.1L921.0,347.8L926.2,347.8ZM932.7,335.2L942.6,352.9L922.9,352.9ZM932.7,343.4L930.1,348.2L935.3,348.2ZM941.8,335.6L951.7,353.3L932.0,353.3ZM941.8,343.8L939.2,348.6L944.4,348.6ZM950.9,335.6L960.8,353.3L941.1,353.3ZM950.9,343.8L948.3,348.6L953.5,348.6ZM960.0,335.6L969.9,353.3L950.2,353.3ZM960.0,343.8L957.4,348.6L962.6,348.6ZM969.1,335.2L979.0,352.9L959.3,352.9ZM969.1,343.4L966.5,348.2L971.7,348.2ZM978.2,333.8L988.1,351.4L968.4,351.4ZM978.2,342.0L975.6,346.7L980.8,346.7ZM987.3,333.0L997.2,350.7L977.5,350.7ZM987.3,341.2L984.7,346.0L989.9,346.0ZM996.4,333.0L1006.3,350.7L986.6,350.7ZM996.4,341.2L993.8,346.0L999.0,346.0ZM1005.5,331.9L1015.4,349.6L995.6,349.6ZM1005.5,340.1L1002.9,344.9L1008.1,344.9Z" fill="#EDB120"/>

<path d="M96.0,264.6L105.1,265.3L114.2,264.6L123.3,265.6L132.4,264.9L141.5,265.3L150.6,265.9L159.7,265.2L168.8,266.1L177.9,265.5L186.9,266.2L196.0,266.3L205.1,265.8L214.2,265.2L223.3,266.5L232.4,266.4L241.5,265.8L250.6,265.3L259.7,266.0L268.8,266.4L277.9,265.5L287.0,267.2L296.1,265.9L305.2,267.0L314.3,267.3L323.4,267.4L332.5,267.2L341.6,266.4L350.7,267.6L359.8,267.0L368.9,267.0L377.9,267.6L387.0,267.4L396.1,268.3L405.2,268.4L414.3,268.3L423.4,267.6L432.5,268.1L441.6,268.4L450.7,268.0L459.8,268.4L468.9,268.7L478.0,268.0L487.1,268.3L496.2,269.1L505.3,268.7L514.4,268.9L523.5,268.4L532.6,268.7L541.7,269.6L550.8,268.5L559.8,270.1L568.9,269.7L578.0,269.2L587.1,270.3L596.2,269.9L605.3,270.7L614.4,269.8L623.5,269.7L632.6,270.1L641.7,269.7L650.8,270.8L659.9,270.3L669.0,270.5L678.1,270.7L687.2,271.0L696.3,270.4L705.4,270.4L714.5,271.3L723.6,271.1L732.6,272.2L741.7,271.2L750.8,271.4L759.9,270.9L769.0,271.3L778.1,272.4L787.2,272.3L796.3,271.9L805.4,273.1L814.5,272.4L823.6,272.8L832.7,272.9L841.8,273.0L850.9,271.8L860.0,272.8L869.1,272.6L878.2,272.3L887.3,271.5L896.4,272.8L905.5,272.2L914.5,272.0L923.6,271.4L932.7,271.5L941.8,271.4L950.9,272.4L960.0,272.1L969.1,272.2L978.2,271.3L987.3,271.1L996.4,272.5L1005.5,271.8" fill="none" stroke="#7E2F8E" stroke-width="4.17" stroke-linejoin="round" stroke-linecap="butt"/>
<path d="M92.1,260.7h7.80v7.80h-7.80ZM101.2,261.4h7.80v7.80h-7.80ZM110.3,260.7h7.80v7.80h-7.80ZM119.4,261.7h7.80v7.80h-7.80ZM128.5,261.0h7.80v7.80h-7.80ZM137.6,261.4h7.80v7.80h-7.80ZM146.7,262.0h7.80v7.80h-7.80ZM155.8,261.3h7.80v7.80h-7.80ZM164.9,262.2h7.80v7.80h-7.80ZM174.0,261.6h7.80v7.80h-7.80ZM183.0,262.3h7.80v7.80h-7.80ZM192.1,262.4h7.80v7.80h-7.80ZM201.2,261.9h7.80v7.80h-7.80ZM210.3,261.3h7.80v7.80h-7.80ZM219.4,262.6h7.80v7.80h-7.80ZM228.5,262.5h7.80v7.80h-7.80ZM237.6,261.9h7.80v7.80h-7.80ZM246.7,261.4h7.80v7.80h-7.80ZM255.8,262.1h7.80v7.80h-7.80ZM264.9,262.5h7.80v7.80h-7.80ZM274.0,261.6h7.80v7.80h-7.80ZM283.1,263.3h7.80v7.80h-7.80ZM292.2,262.0h7.80v7.80h-7.80ZM301.3,263.1h7.80v7.80h-7.80ZM310.4,263.4h7.80v7.80h-7.80ZM319.5,263.5h7.80v7.80h-7.80ZM328.6,263.3h7.80v7.80h-7.80ZM337.7,262.5h7.80v7.80h-7.80ZM346.8,263.7h7.80v7.80h-7.80ZM355.9,263.1h7.80v7.80h-7.80ZM365.0,263.1h7.80v7.80h-7.80ZM374.0,263.7h7.80v7.80h-7.80ZM383.1,263.5h7.80v7.80h-7.80ZM392.2,264.4h7.80v7.80h-7.80ZM401.3,264.5h7.80v7.80h-7.80ZM410.4,264.4h7.80v7.80h-7.80ZM419.5,263.7h7.80v7.80h-7.80ZM428.6,264.2h7.80v7.80h-7.80ZM437.7,264.5h7.80v7.80h-7.80ZM446.8,264.1h7.80v7.80h-7.80ZM455.9,264.5h7.80v7.80h-7.80ZM465.0,264.8h7.80v7.80h-7.80ZM474.1,264.1h7.80v7.80h-7.80ZM483.2,264.4h7.80v7.80h-7.80ZM492.3,265.2h7.80v7.80h-7.80ZM501.4,264.8h7.80v7.80h-7.80ZM510.5,265.0h7.80v7.80h-7.80ZM519.6,264.5h7.80v7.80h-7.80ZM528.7,264.8h7.80v7.80h-7.80ZM537.8,265.7h7.80v7.80h-7.80ZM546.9,264.6h7.80v7.80h-7.80ZM555.9,266.2h7.80v7.80h-7.80ZM565.0,265.8h7.80v7.80h-7.80ZM574.1,265.3h7.80v7.80h-7.80ZM583.2,266.4h7.80v7.80h-7.80ZM592.3,266.0h7.80v7.80h-7.80ZM601.4,266.8h7.80v7.80h-7.80ZM610.5,265.9h7.80v7.80h-7.80ZM619.6,265.8h7.80v7.80h-7.80ZM628.7,266.2h7.80v7.80h-7.80ZM637.8,265.8h7.80v7.80h-7.80ZM646.9,266.9h7.80v7.80h-7.80ZM656.0,266.4h7.80v7.80h-7.80ZM665.1,266.6h7.80v7.80h-7.80ZM674.2,266.8h7.80v7.80h-7.80ZM683.3,267.1h7.80v7.80h-7.80ZM692.4,266.5h7.80v7.80h-7.80ZM701.5,266.5h7.80v7.80h-7.80ZM710.6,267.4h7.80v7.80h-7.80ZM719.7,267.2h7.80v7.80h-7.80ZM728.8,268.3h7.80v7.80h-7.80ZM737.8,267.3h7.80v7.80h-7.80ZM746.9,267.5h7.80v7.80h-7.80ZM756.0,267.0h7.80v7.80h-7.80ZM765.1,267.4h7.80v7.80h-7.80ZM774.2,268.5h7.80v7.80h-7.80ZM783.3,268.4h7.80v7.80h-7.80ZM792.4,268.0h7.80v7.80h-7.80ZM801.5,269.2h7.80v7.80h-7.80ZM810.6,268.5h7.80v7.80h-7.80ZM819.7,268.9h7.80v7.80h-7.80ZM828.8,269.0h7.80v7.80h-7.80ZM837.9,269.1h7.80v7.80h-7.80ZM847.0,267.9h7.80v7.80h-7.80ZM856.1,268.9h7.80v7.80h-7.80ZM865.2,268.7h7.80v7.80h-7.80ZM874.3,268.4h7.80v7.80h-7.80ZM883.4,267.6h7.80v7.80h-7.80ZM892.5,268.9h7.80v7.80h-7.80ZM901.6,268.3h7.80v7.80h-7.80ZM910.6,268.1h7.80v7.80h-7.80ZM919.7,267.5h7.80v7.80h-7.80ZM928.8,267.6h7.80v7.80h-7.80ZM937.9,267.5h7.80v7.80h-7.80ZM947.0,268.5h7.80v7.80h-7.80ZM956.1,268.2h7.80v7.80h-7.80ZM965.2,268.3h7.80v7.80h-7.80ZM974.3,267.4h7.80v7.80h-7.80ZM983.4,267.2h7.80v7.80h-7.80ZM992.5,268.6h7.80v7.80h-7.80ZM1001.6,267.9h7.80v7.80h-7.80Z" fill="none" stroke="#7E2F8E" stroke-width="4.87" stroke-linejoin="miter" stroke-miterlimit="10"/>

 <text x="95.7" y="755.6" text-anchor="middle" font-family="Liberation Sans, Arial, sans-serif" font-size="27.8" fill="#262626" stroke="#262626" stroke-width="0.25">0</text>
 <text x="277.6" y="755.6" text-anchor="middle" font-family="Liberation Sans, Arial, sans-serif" font-size="27.8" fill="#262626" stroke="#262626" stroke-width="0.25">0.2</text>
 <text x="459.5" y="755.6" text-anchor="middle" font-family="Liberation Sans, Arial, sans-serif" font-size="27.8" fill="#262626" stroke="#262626" stroke-width="0.25">0.4</text>
 <text x="641.4" y="755.6" text-anchor="middle" font-family="Liberation Sans, Arial, sans-serif" font-size="27.8" fill="#262626" stroke="#262626" stroke-width="0.25">0.6</text>
 <text x="823.3" y="755.6" text-anchor="middle" font-family="Liberation Sans, Arial, sans-serif" font-size="27.8" fill="#262626" stroke="#262626" stroke-width="0.25">0.8</text>
 <text x="1004.6" y="755.6" text-anchor="middle" font-family="Liberation Sans, Arial, sans-serif" font-size="27.8" fill="#262626" stroke="#262626" stroke-width="0.25"><tspan font-family="NanumGothic, Liberation Sans, sans-serif" font-size="25.8" stroke-width="0.45" dy="-0.6">1</tspan></text>
<text x="83.3" y="726.4" text-anchor="end" font-family="Liberation Sans, Arial, sans-serif" font-size="27.8" fill="#262626" stroke="#262626" stroke-width="0.25">0</text>
<text x="84.8" y="490.9" text-anchor="end" font-family="Liberation Sans, Arial, sans-serif" font-size="27.8" fill="#262626" stroke="#262626" stroke-width="0.25">0.5</text>
<text x="83.89999999999999" y="255.3" text-anchor="end" font-family="Liberation Sans, Arial, sans-serif" font-size="27.8" fill="#262626" stroke="#262626" stroke-width="0.25"><tspan font-family="NanumGothic, Liberation Sans, sans-serif" font-size="25.8" stroke-width="0.45" dy="-0.6">1</tspan></text>
<text x="84.8" y="19.8" text-anchor="end" font-family="Liberation Sans, Arial, sans-serif" font-size="27.8" fill="#262626" stroke="#262626" stroke-width="0.25"><tspan font-family="NanumGothic, Liberation Sans, sans-serif" font-size="25.8" stroke-width="0.45" dy="-0.6">1</tspan><tspan dy="0.6">.5</tspan></text>
<text x="555.6" y="810.3" text-anchor="middle" textLength="282.5" lengthAdjust="spacingAndGlyphs" font-family="Liberation Serif, Times New Roman, serif" font-size="38" fill="#262626" stroke="#262626" stroke-width="0.2">Control parameter</text>
<text transform="translate(26,358.5) rotate(-90)" text-anchor="middle" font-family="Liberation Serif, Times New Roman, serif" font-size="38" fill="#262626" stroke="#262626" stroke-width="0.2">PE</text>
<rect x="749.6" y="31.7" width="233.60000000000002" height="139.3" fill="#fff" stroke="#262626" stroke-width="1.6"/>
<path d="M758,51.3H842" stroke="#0072BD" stroke-width="4.17" fill="none"/>
<path d="M800.0,39.1L802.9,47.3L811.6,47.5L804.7,52.8L807.1,61.1L800.0,56.2L792.9,61.1L795.3,52.8L788.4,47.5L797.1,47.3Z" fill="#0072BD"/>

<text x="847.4" y="61.2" textLength="100.4" lengthAdjust="spacingAndGlyphs" font-family="Liberation Sans, Arial, sans-serif" font-size="24.6" fill="#000" stroke="#000" stroke-width="0.3">2D-MCM</text>
<path d="M758,84.5H842" stroke="#D95319" stroke-width="4.17" fill="none"/>
<path d="M800.0,77.5L805.3,84.5L800.0,91.5L794.7,84.5Z" fill="none" stroke="#D95319" stroke-width="4.62" stroke-linejoin="miter" stroke-miterlimit="10"/>

<text x="847.4" y="94.5" textLength="114.6" lengthAdjust="spacingAndGlyphs" font-family="Liberation Sans, Arial, sans-serif" font-size="24.6" fill="#000" stroke="#000" stroke-width="0.3">2D-FOCM</text>
<path d="M758,117.8H842" stroke="#EDB120" stroke-width="4.17" fill="none"/>
<path d="M800.0,106.6L809.9,124.2L790.1,124.2ZM800.0,114.8L797.4,119.5L802.6,119.5Z" fill="#EDB120"/>

<text x="847.4" y="127.7" textLength="102.7" lengthAdjust="spacingAndGlyphs" font-family="Liberation Sans, Arial, sans-serif" font-size="24.6" fill="#000" stroke="#000" stroke-width="0.3">2D-LJTM</text>
<path d="M758,151.1H842" stroke="#7E2F8E" stroke-width="4.17" fill="none"/>
<path d="M796.1,147.2h7.80v7.80h-7.80Z" fill="none" stroke="#7E2F8E" stroke-width="4.87" stroke-linejoin="miter" stroke-miterlimit="10"/>

<text x="847.4" y="161.0" textLength="125.2" lengthAdjust="spacingAndGlyphs" font-family="Liberation Sans, Arial, sans-serif" font-size="24.6" fill="#000" stroke="#000" stroke-width="0.3">2D-SLTCM</text>
</svg>
</body></html>
